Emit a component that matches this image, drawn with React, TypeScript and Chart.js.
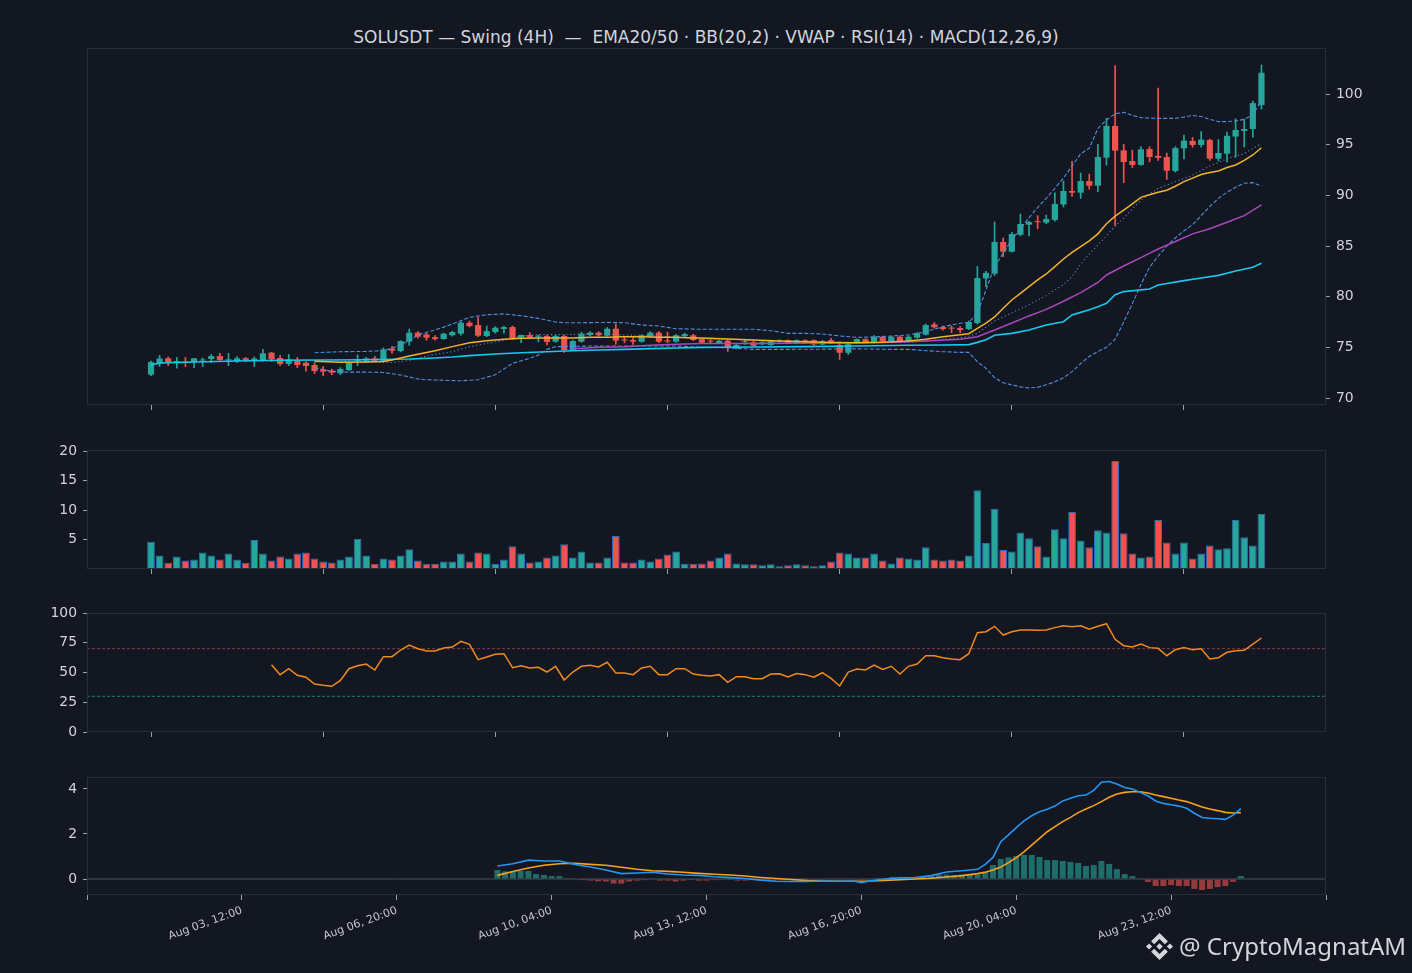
import React, { useEffect, useRef } from 'react';
import { Chart, registerables } from 'chart.js';

Chart.register(...registerables);

// ---------------- data ----------------
const opens = [72.3, 73.4, 73.92, 73.48, 73.6, 73.53, 73.7, 73.85, 74.14, 73.72,
  73.65, 73.93, 73.68, 73.75, 74.47, 73.95, 73.36, 73.75, 73.48, 73.26,
  72.83, 72.7, 72.44, 72.76, 73.65, 73.68, 73.92, 73.65, 74.87, 74.64,
  75.56, 76.45, 76.28, 76.0, 75.82, 76.19, 76.35, 77.43, 77.2, 76.12,
  76.51, 76.81, 77.0, 75.95, 76.22, 76.05, 76.12, 75.56, 76.12, 74.74,
  75.56, 76.22, 76.45, 76.15, 76.84, 75.72, 75.72, 75.56, 76.05, 76.45,
  75.62, 75.56, 76.1, 76.19, 75.8, 75.62, 75.4, 75.66, 74.9, 75.5,
  75.5, 75.3, 75.23, 75.6, 75.7, 75.4, 75.7, 75.72, 75.29, 75.7,
  75.23, 74.47, 75.5, 75.8, 75.46, 76.05, 75.62, 76.05, 75.56, 75.95,
  76.25, 77.27, 77.0, 76.9, 76.9, 76.8, 77.4, 81.8, 82.27, 85.4,
  84.44, 86.1, 87.1, 87.45, 87.3, 87.57, 89.1, 90.43, 90.26, 91.41,
  90.95, 93.72, 96.85, 94.44, 93.39, 93.0, 94.57, 93.9, 93.78, 92.4,
  94.64, 95.37, 94.97, 95.46, 93.62, 94.11, 95.8, 96.35, 96.55, 98.9];

const highs = [73.65, 74.2, 74.05, 74.0, 74.0, 73.92, 73.95, 74.3, 74.4, 74.4,
  74.1, 74.0, 74.05, 74.8, 74.5, 74.2, 74.3, 74.0, 73.6, 73.5,
  73.1, 72.85, 73.0, 73.6, 74.25, 74.0, 74.1, 74.95, 75.1, 75.65,
  76.8, 76.55, 76.4, 76.15, 76.4, 76.6, 77.55, 77.6, 77.95, 77.1,
  77.05, 77.1, 77.1, 76.22, 76.45, 76.2, 76.2, 76.2, 76.2, 75.7,
  76.5, 76.55, 76.55, 76.95, 77.3, 75.95, 75.95, 76.25, 76.55, 76.55,
  76.5, 76.25, 76.4, 76.3, 75.85, 75.75, 75.7, 75.75, 75.3, 75.7,
  75.6, 75.55, 75.7, 75.75, 75.75, 75.75, 75.75, 75.75, 75.7, 75.9,
  75.55, 75.5, 75.85, 75.85, 76.15, 76.1, 76.1, 76.1, 76.1, 76.45,
  77.3, 77.45, 77.1, 77.1, 77.05, 77.6, 83.0, 82.5, 87.37, 85.79,
  86.35, 88.16, 87.45, 88.0, 88.05, 90.26, 91.4, 93.35, 92.2, 92.1,
  95.04, 97.6, 102.8, 95.04, 94.46, 94.8, 94.8, 100.59, 94.17, 94.8,
  95.95, 95.7, 96.3, 95.57, 95.5, 96.25, 97.55, 97.5, 99.3, 102.86];

const lows = [72.2, 73.1, 73.2, 72.95, 73.1, 73.0, 73.1, 73.5, 73.7, 73.2,
  73.5, 73.6, 73.1, 73.6, 73.6, 73.2, 73.2, 73.0, 72.65, 72.4,
  72.2, 72.3, 72.3, 72.7, 73.2, 73.5, 73.6, 73.6, 74.4, 74.55,
  75.2, 75.9, 75.7, 75.7, 75.8, 76.1, 76.2, 77.0, 76.05, 76.05,
  76.4, 76.4, 75.8, 75.45, 75.9, 75.55, 75.25, 75.5, 74.5, 74.7,
  75.5, 76.15, 76.1, 76.1, 75.3, 75.45, 75.3, 75.5, 76.0, 75.45,
  75.45, 75.5, 76.0, 75.65, 75.35, 75.4, 75.35, 74.6, 74.85, 75.3,
  75.1, 75.25, 75.2, 75.5, 75.35, 75.35, 75.45, 75.2, 75.25, 75.35,
  73.8, 74.3, 75.45, 75.45, 75.4, 75.5, 75.55, 75.5, 75.5, 75.9,
  76.2, 76.9, 76.7, 76.45, 76.45, 76.75, 77.3, 80.98, 82.1, 83.94,
  84.4, 86.0, 86.0, 86.7, 87.2, 87.45, 88.85, 89.9, 89.7, 90.6,
  90.36, 92.97, 87.0, 91.25, 92.74, 92.95, 93.3, 93.45, 91.57, 92.3,
  93.6, 94.75, 94.75, 93.45, 93.4, 93.3, 93.77, 94.77, 95.73, 98.5];

const closes = [73.55, 73.9, 73.48, 73.65, 73.45, 73.92, 73.72, 74.14, 73.75, 73.74,
  73.92, 73.7, 73.9, 74.41, 73.82, 73.36, 73.82, 73.26, 73.16, 72.66,
  72.6, 72.5, 72.86, 73.52, 73.85, 73.92, 73.68, 74.8, 74.67, 75.62,
  76.45, 76.05, 75.95, 75.82, 76.35, 76.51, 77.43, 77.1, 76.15, 76.6,
  76.94, 77.0, 75.89, 76.22, 75.99, 76.15, 75.53, 76.12, 74.74, 75.62,
  76.35, 76.45, 76.19, 76.84, 75.66, 75.68, 75.56, 76.19, 76.45, 75.56,
  75.58, 76.19, 76.3, 75.72, 75.46, 75.58, 75.66, 74.97, 75.23, 75.52,
  75.16, 75.5, 75.62, 75.65, 75.4, 75.7, 75.5, 75.29, 75.62, 75.4,
  74.47, 75.3, 75.8, 75.5, 76.05, 75.56, 76.05, 75.56, 76.05, 76.38,
  77.2, 76.98, 76.8, 76.85, 76.7, 77.5, 81.84, 82.35, 85.4, 84.44,
  86.18, 87.17, 87.37, 87.35, 87.67, 89.15, 90.43, 90.26, 91.41, 90.95,
  93.78, 96.85, 94.41, 93.29, 93.0, 94.54, 93.78, 93.7, 92.43, 94.67,
  95.4, 94.97, 95.5, 93.62, 94.18, 95.88, 96.45, 96.55, 99.1, 102.1];

const volumes = [4.6, 2.3, 1.07, 2.13, 1.46, 1.63, 2.8, 2.3, 1.63, 2.64,
  1.63, 1.07, 4.9, 2.64, 1.46, 2.13, 1.8, 2.64, 2.8, 1.8,
  1.29, 1.12, 1.63, 2.13, 5.1, 2.3, 0.9, 1.8, 1.63, 2.3,
  3.35, 1.46, 0.9, 0.9, 1.29, 1.29, 2.64, 1.29, 2.8, 2.64,
  0.9, 1.63, 3.85, 2.64, 1.12, 1.29, 1.97, 2.3, 4.2, 1.97,
  2.98, 1.12, 1.12, 1.97, 5.6, 1.12, 1.12, 1.63, 1.29, 1.8,
  2.47, 2.98, 0.9, 0.9, 0.95, 1.46, 1.97, 2.64, 0.95, 0.79,
  0.79, 0.62, 0.79, 0.45, 0.62, 0.79, 0.62, 0.45, 0.62, 1.29,
  2.8, 2.64, 1.97, 1.97, 2.64, 1.46, 0.95, 1.97, 1.8, 1.63,
  3.7, 1.63, 1.46, 1.63, 1.46, 2.3, 13.35, 4.4, 10.15, 3.2,
  2.98, 6.2, 5.2, 3.85, 2.13, 6.75, 5.2, 9.65, 4.85, 3.7,
  6.55, 6.2, 18.3, 6.05, 2.64, 1.97, 2.13, 8.3, 4.5, 2.64,
  4.5, 1.8, 2.64, 4.0, 3.35, 3.5, 8.3, 5.4, 4.0, 9.35];

const rsiStart = 14;
const rsiValues = [56.6, 48.2, 53.2, 47.6, 46.0, 40.3, 39.2, 38.4, 43.4, 53.2,
  55.7, 57.1, 52.1, 63.3, 63.3, 68.9, 73.1, 70.0, 68.1, 68.1,
  70.6, 71.4, 76.2, 73.7, 60.8, 63.0, 65.3, 65.8, 54.0, 55.7,
  53.8, 54.4, 50.4, 55.2, 43.7, 50.4, 55.2, 56.0, 54.6, 58.6,
  49.6, 49.6, 48.2, 53.8, 55.2, 48.2, 48.2, 53.2, 53.2, 48.7,
  47.6, 47.1, 48.2, 41.8, 46.5, 46.5, 44.8, 44.8, 48.7, 49.0,
  46.2, 49.2, 48.2, 46.0, 49.8, 45.1, 38.7, 50.4, 52.9, 52.1,
  56.3, 52.6, 55.2, 48.7, 55.2, 57.1, 64.1, 64.1, 62.4, 61.3,
  60.8, 65.8, 83.5, 84.3, 88.8, 81.5, 84.3, 85.7, 85.7, 85.4,
  85.7, 87.7, 89.3, 88.5, 89.3, 86.3, 88.8, 91.0, 77.9, 72.5,
  71.4, 73.9, 70.9, 70.3, 64.1, 69.2, 70.9, 69.2, 70.0, 61.3,
  62.4, 67.0, 68.3, 68.6, 73.9, 79.0];
const rsiLevels = [70, 30];

const ema20Pts: [number, number][] = [[19, 73.62], [22, 73.52], [25, 73.55], [27, 73.6], [28, 73.75], [30, 74.14], [32, 74.5], [33, 74.67], [35, 75.07], [37, 75.46], [39, 75.66], [41, 75.79], [43, 75.89], [45, 75.92], [47, 75.92], [49, 75.92], [51, 75.99], [53, 75.99], [55, 76.05], [57, 76.05], [59, 75.99], [61, 75.99], [63, 75.92], [64, 75.92], [67, 75.82], [70, 75.72], [73, 75.62], [76, 75.56], [79, 75.49], [82, 75.46], [85, 75.5], [88, 75.62], [90, 75.79], [92, 76.05], [94, 76.25], [95, 76.35], [96, 76.88], [97, 77.4], [98, 78.0], [99, 78.85], [100, 79.67], [101, 80.33], [102, 80.99], [103, 81.65], [104, 82.24], [105, 82.96], [106, 83.72], [107, 84.38], [108, 84.93], [109, 85.5], [110, 86.2], [111, 87.2], [112, 87.95], [113, 88.55], [114, 89.15], [115, 89.8], [116, 90.05], [117, 90.3], [118, 90.5], [119, 90.9], [120, 91.35], [121, 91.7], [122, 92.05], [123, 92.25], [124, 92.4], [125, 92.75], [126, 93.0], [127, 93.45], [128, 93.98], [129, 94.7]];

const ema50Pts: [number, number][] = [[49, 74.87], [52, 75.0], [55, 75.07], [58, 75.2], [61, 75.3], [64, 75.37], [70, 75.39], [78, 75.42], [82, 75.46], [86, 75.5], [90, 75.62], [94, 75.79], [96, 76.05], [98, 76.71], [100, 77.4], [102, 78.1], [104, 78.75], [106, 79.55], [108, 80.4], [110, 81.4], [111, 82.14], [113, 83.03], [115, 83.85], [117, 84.7], [119, 85.45], [121, 86.2], [123, 86.7], [125, 87.35], [127, 88.0], [129, 89.05]];

const vwapPts: [number, number][] = [[0, 73.26], [1, 73.45], [5, 73.55], [10, 73.65], [15, 73.72], [20, 73.75], [25, 73.78], [30, 73.85], [33, 73.95], [35, 74.04], [37, 74.18], [40, 74.34], [43, 74.47], [46, 74.57], [49, 74.67], [52, 74.74], [55, 74.8], [58, 74.87], [61, 74.93], [64, 75.0], [70, 75.03], [76, 75.07], [82, 75.13], [88, 75.2], [92, 75.23], [95, 75.27], [96, 75.49], [97, 75.75], [98, 76.2], [100, 76.38], [102, 76.71], [104, 77.2], [106, 77.53], [107, 78.2], [108, 78.45], [109, 78.7], [110, 79.0], [111, 79.35], [112, 80.2], [113, 80.5], [116, 80.76], [117, 81.15], [120, 81.58], [122, 81.85], [124, 82.1], [126, 82.53], [128, 82.9], [129, 83.29]];

const bbUpperPts: [number, number][] = [[19, 74.47], [22, 74.57], [25, 74.6], [27, 74.67], [28, 74.9], [30, 75.66], [31, 76.2], [32, 76.48], [33, 76.71], [35, 77.3], [37, 77.96], [39, 78.22], [41, 78.3], [43, 78.12], [45, 77.86], [47, 77.5], [48, 77.43], [50, 77.43], [53, 77.46], [55, 77.43], [57, 77.2], [59, 77.1], [61, 76.84], [64, 76.78], [67, 76.78], [70, 76.78], [72, 76.64], [74, 76.38], [76, 76.38], [78, 76.32], [80, 76.12], [82, 75.99], [84, 76.02], [86, 76.12], [88, 76.22], [90, 76.54], [92, 77.04], [94, 77.37], [95, 77.47], [96, 78.36], [97, 80.66], [98, 82.96], [99, 84.3], [100, 85.6], [101, 86.7], [102, 87.8], [103, 88.8], [104, 89.7], [105, 90.7], [106, 91.7], [107, 92.9], [108, 94.1], [109, 94.64], [110, 96.6], [111, 97.44], [112, 98.05], [113, 98.19], [114, 97.9], [115, 97.66], [117, 97.6], [119, 97.6], [120, 97.72], [121, 97.88], [122, 97.78], [123, 97.5], [124, 97.27], [125, 97.27], [126, 97.35], [127, 97.5], [128, 97.93], [129, 99.4]];

const bbMidPts: [number, number][] = [[19, 73.7], [22, 73.6], [25, 73.55], [28, 73.5], [30, 73.7], [32, 74.14], [33, 74.3], [35, 74.57], [37, 75.07], [39, 75.39], [41, 75.69], [43, 76.12], [45, 76.25], [47, 76.25], [49, 76.28], [51, 76.32], [53, 76.28], [55, 76.22], [57, 76.18], [59, 76.12], [61, 76.0], [63, 75.9], [64, 75.85], [68, 75.79], [72, 75.59], [76, 75.49], [80, 75.46], [84, 75.46], [88, 75.5], [90, 75.6], [92, 75.8], [94, 75.95], [95, 76.1], [96, 76.38], [98, 77.6], [100, 78.4], [102, 79.2], [104, 80.1], [106, 81.2], [107, 82.0], [108, 83.2], [109, 84.2], [110, 85.1], [111, 86.0], [112, 86.97], [113, 87.74], [115, 89.54], [117, 90.69], [119, 91.35], [121, 92.0], [123, 92.9], [125, 93.6], [127, 94.13], [129, 95.12]];

const bbLowerPts: [number, number][] = [[19, 72.99], [21, 72.63], [23, 72.55], [25, 72.55], [27, 72.52], [29, 72.27], [31, 71.88], [32, 71.8], [34, 71.75], [36, 71.7], [38, 71.8], [40, 72.3], [42, 73.42], [44, 73.92], [45, 74.24], [46, 74.8], [47, 75.07], [49, 75.1], [51, 75.13], [61, 75.13], [64, 75.0], [66, 75.0], [68, 74.9], [70, 74.8], [74, 74.8], [78, 74.82], [82, 74.85], [86, 74.8], [88, 74.8], [90, 74.67], [92, 74.57], [94, 74.5], [95, 74.5], [96, 73.58], [97, 72.93], [98, 72.0], [99, 71.5], [100, 71.3], [101, 71.1], [102, 71.0], [103, 71.05], [104, 71.3], [105, 71.6], [106, 72.0], [107, 72.6], [108, 73.4], [109, 74.1], [110, 74.6], [111, 75.0], [112, 75.8], [113, 77.5], [114, 79.3], [115, 81.2], [116, 82.9], [117, 84.0], [118, 85.0], [119, 85.8], [120, 86.5], [121, 87.1], [122, 88.0], [123, 88.9], [124, 89.7], [125, 90.3], [126, 90.8], [127, 91.2], [128, 91.25], [129, 90.92]];

const macdPts: [number, number][] = [[33, 0.58], [35, 0.68], [37, 0.84], [39, 0.8], [41, 0.8], [43, 0.65], [45, 0.53], [47, 0.4], [49, 0.24], [51, 0.27], [53, 0.3], [55, 0.22], [57, 0.18], [59, 0.16], [61, 0.1], [63, 0.06], [65, 0.02], [67, -0.05], [69, -0.1], [71, -0.11], [73, -0.11], [75, -0.09], [77, -0.1], [79, -0.09], [80, -0.16], [81, -0.09], [83, 0], [85, 0.05], [87, 0.07], [89, 0.15], [91, 0.31], [93, 0.37], [95, 0.43], [96, 0.65], [97, 0.96], [98, 1.66], [99, 1.96], [100, 2.28], [101, 2.58], [102, 2.81], [103, 2.99], [104, 3.1], [105, 3.24], [106, 3.47], [107, 3.59], [108, 3.7], [109, 3.73], [110, 3.94], [111, 4.3], [112, 4.33], [113, 4.22], [114, 4.07], [115, 4.0], [116, 3.85], [117, 3.7], [118, 3.47], [119, 3.36], [120, 3.3], [121, 3.24], [122, 3.14], [123, 2.92], [124, 2.73], [125, 2.7], [126, 2.68], [127, 2.65], [128, 2.84], [129, 3.13]];

const signalPts: [number, number][] = [[33, 0.16], [35, 0.33], [37, 0.49], [39, 0.61], [41, 0.68], [43, 0.7], [45, 0.65], [47, 0.61], [49, 0.52], [51, 0.43], [53, 0.37], [55, 0.34], [57, 0.3], [59, 0.25], [61, 0.21], [63, 0.18], [65, 0.13], [67, 0.07], [69, 0.02], [71, -0.02], [73, -0.07], [75, -0.09], [77, -0.1], [79, -0.1], [81, -0.09], [83, -0.06], [85, -0.03], [87, 0], [89, 0.03], [91, 0.09], [93, 0.15], [95, 0.24], [96, 0.3], [97, 0.4], [98, 0.53], [99, 0.73], [100, 0.95], [101, 1.21], [102, 1.51], [103, 1.81], [104, 2.1], [105, 2.33], [106, 2.55], [107, 2.74], [108, 2.95], [109, 3.11], [110, 3.26], [111, 3.44], [112, 3.63], [113, 3.78], [114, 3.85], [115, 3.88], [116, 3.88], [117, 3.82], [118, 3.73], [119, 3.66], [120, 3.59], [121, 3.51], [122, 3.44], [123, 3.32], [124, 3.2], [125, 3.11], [126, 3.04], [127, 2.96], [128, 2.93], [129, 2.95]];

const macdStart = 33;
const macdHist = [0.4, 0.34, 0.34, 0.36, 0.36, 0.22, 0.18, 0.13, 0.13, 0.04,
  -0.02, -0.05, -0.07, -0.1, -0.11, -0.2, -0.2, -0.11, -0.07, -0.05,
  -0.02, -0.07, -0.07, -0.11, -0.07, -0.04, -0.07, -0.07, -0.05, -0.04,
  -0.04, -0.07, -0.07, -0.05, -0.08, -0.08, -0.05, -0.05, -0.05, -0.05,
  -0.04, -0.05, -0.04, -0.02, -0.02, -0.01, -0.01, -0.05, -0.01, 0.04,
  0.04, 0.09, 0.09, 0.09, 0.07, 0.09, 0.13, 0.2, 0.2, 0.18,
  0.2, 0.22, 0.2, 0.33, 0.62, 0.89, 0.96, 1.02, 1.07, 1.07,
  0.98, 0.84, 0.84, 0.8, 0.76, 0.71, 0.58, 0.62, 0.8, 0.67,
  0.44, 0.22, 0.13, 0.0, -0.13, -0.31, -0.31, -0.27, -0.31, -0.31,
  -0.44, -0.49, -0.44, -0.36, -0.31, -0.13, 0.13];

const priceTicks = [70, 75, 80, 85, 90, 95, 100];
const volumeTicks = [5, 10, 15, 20];
const rsiTicks = [0, 25, 50, 75, 100];
const macdTicks = [0, 2, 4];
const indexTicks = [0, 20, 40, 60, 80, 100, 120];
const dateTickValues = [-20, 0, 20, 40, 60, 80, 100, 120, 140];
const dateTickLabels = ['', 'Aug 03, 12:00', 'Aug 06, 20:00', 'Aug 10, 04:00', 'Aug 13, 12:00', 'Aug 16, 20:00', 'Aug 20, 04:00', 'Aug 23, 12:00', ''];

const titleText = 'SOLUSDT — Swing (4H)  —  EMA20/50 · BB(20,2) · VWAP · RSI(14) · MACD(12,26,9)';
const watermarkText = '@ CryptoMagnatAM';

// ---------------- style ----------------
const BG = '#131722';
const FRAME = '#2a2e39';
const TEXT = '#d1d4dc';
const TICK_MARK = '#9aa0ab';
const UP = '#26a69a';
const DOWN = '#ef5350';
const FONT = '"DejaVu Sans", "Liberation Sans", sans-serif';
const W = 1412;
const X_MIN = -7.435;
const X_MAX = 136.5;

const candleColors = opens.map((o, i) => (closes[i] >= o ? UP : DOWN));

function fixBox(w?: number, h?: number) {
  return (scale: any) => {
    if (w !== undefined) scale.width = w;
    if (h !== undefined) scale.height = h;
    scale.paddingLeft = 0;
    scale.paddingRight = 0;
    scale.paddingTop = 0;
    scale.paddingBottom = 0;
  };
}
function setTicks(values: number[]) {
  return (scale: any) => {
    scale.ticks = values.map((v) => ({ value: v }));
  };
}

const framePlugin = {
  id: 'frame',
  afterDraw(chart: any) {
    const { ctx, chartArea: a } = chart;
    ctx.save();
    ctx.strokeStyle = FRAME;
    ctx.lineWidth = 1;
    ctx.strokeRect(Math.round(a.left) + 0.5, Math.round(a.top) + 0.5, Math.round(a.width) - 1, Math.round(a.height) - 1);
    ctx.restore();
  },
};

function topX(h: number) {
  return {
    type: 'linear',
    min: X_MIN,
    max: X_MAX,
    offset: false,
    afterBuildTicks: setTicks(indexTicks),
    afterFit: fixBox(undefined, h),
    grid: { offset: false, drawOnChartArea: false, drawTicks: true, tickLength: 5, tickColor: TICK_MARK, tickWidth: 1 },
    border: { display: false },
    ticks: { callback: () => '', autoSkip: false, maxRotation: 0 },
  };
}

function yAxis(position: 'left' | 'right', min: number, max: number, ticks: number[], w: number) {
  return {
    type: 'linear',
    position,
    min,
    max,
    afterBuildTicks: setTicks(ticks),
    afterFit: fixBox(w, undefined),
    grid: { offset: false, drawOnChartArea: false, drawTicks: true, tickLength: 4, tickColor: TICK_MARK, tickWidth: 1 },
    border: { display: false },
    ticks: { color: TEXT, font: { family: FONT, size: 13.9 }, padding: 6 },
  };
}

function lineDs(label: string, pts: [number, number][], color: string, width: number, dash: number[] = [], order = 1) {
  return {
    type: 'line',
    label,
    data: pts.map(([x, y]) => ({ x, y })),
    borderColor: color,
    borderWidth: width,
    borderDash: dash,
    pointRadius: 0,
    tension: 0,
    fill: false,
    order,
  };
}

const baseOptions = {
  responsive: false,
  animation: false,
  devicePixelRatio: 1,
  events: [],
  plugins: { legend: { display: false }, tooltip: { enabled: false }, title: { display: false } },
};

function priceConfig(): any {
  return {
    type: 'bar',
    data: {
      datasets: [
        {
          type: 'bar',
          label: 'wick',
          data: opens.map((_, i) => ({ x: i, y: [lows[i], highs[i]] })),
          backgroundColor: candleColors,
          barThickness: 1,
          grouped: false,
          order: 20,
        },
        {
          type: 'bar',
          label: 'body',
          data: opens.map((o, i) => ({ x: i, y: [o, closes[i]] })),
          backgroundColor: candleColors,
          barPercentage: 0.72,
          categoryPercentage: 1,
          grouped: false,
          minBarLength: 1,
          order: 19,
        },
        lineDs('BB upper', bbUpperPts, '#4d8fe0', 1.1, [4, 2], 5),
        lineDs('BB lower', bbLowerPts, '#4d8fe0', 1.1, [4, 2], 5),
        lineDs('BB mid', bbMidPts, '#5a84c0', 1.1, [1.2, 2.6], 5),
        lineDs('EMA50', ema50Pts, '#ab47bc', 1.5, [], 3),
        lineDs('VWAP', vwapPts, '#18c8ec', 1.6, [], 2),
        lineDs('EMA20', ema20Pts, '#f0b429', 1.5, [], 1),
      ],
    },
    options: {
      ...baseOptions,
      layout: { padding: { left: 87, right: 0, top: 8, bottom: 0 } },
      scales: {
        x: topX(35),
        y: yAxis('right', 69.31, 104.54, priceTicks, 86),
      },
    },
    plugins: [framePlugin],
  };
}

function volumeConfig(): any {
  return {
    type: 'bar',
    data: {
      datasets: [
        {
          label: 'Volume',
          data: volumes.map((v, i) => ({ x: i, y: v })),
          backgroundColor: candleColors,
          borderColor: '#2f6cb2',
          borderWidth: 1,
          barPercentage: 0.9,
          categoryPercentage: 1,
          grouped: false,
        },
      ],
    },
    options: {
      ...baseOptions,
      layout: { padding: { left: 0, right: 86, top: 8, bottom: 0 } },
      scales: {
        x: topX(13),
        y: yAxis('left', 0, 20.17, volumeTicks, 87),
      },
    },
    plugins: [framePlugin],
  };
}

function rsiConfig(): any {
  return {
    type: 'line',
    data: {
      datasets: [
        lineDs('70', [[X_MIN, rsiLevels[0]], [X_MAX, rsiLevels[0]]], '#7e3f4b', 1, [3, 2], 5),
        lineDs('30', [[X_MIN, rsiLevels[1]], [X_MAX, rsiLevels[1]]], '#1b8078', 1, [3, 2], 5),
        lineDs('RSI', rsiValues.map((v, k) => [rsiStart + k, v] as [number, number]), '#ef8a1c', 1.5, [], 1),
      ],
    },
    options: {
      ...baseOptions,
      layout: { padding: { left: 0, right: 86, top: 8, bottom: 0 } },
      scales: {
        x: topX(13),
        y: yAxis('left', 0, 100, rsiTicks, 87),
      },
    },
    plugins: [framePlugin],
  };
}

function macdConfig(): any {
  return {
    type: 'bar',
    data: {
      datasets: [
        {
          type: 'bar',
          label: 'Hist',
          data: macdHist.map((h, k) => ({ x: macdStart + k, y: h })),
          backgroundColor: macdHist.map((h) => (h >= 0 ? 'rgba(38,166,154,0.6)' : 'rgba(239,83,80,0.6)')),
          barPercentage: 0.78,
          categoryPercentage: 1,
          grouped: false,
          order: 20,
        },
        lineDs('zero', [[-20, 0], [140, 0]], '#4b505b', 1, [], 10),
        lineDs('Signal', signalPts, '#f7a21b', 1.6, [], 2),
        lineDs('MACD', macdPts, '#2196f3', 1.6, [], 1),
      ],
    },
    options: {
      ...baseOptions,
      layout: { padding: { left: 0, right: 86, top: 8, bottom: 0 } },
      scales: {
        x: {
          type: 'linear',
          min: -20,
          max: 140,
          offset: false,
          afterBuildTicks: setTicks(dateTickValues),
          afterFit: fixBox(undefined, 78),
          grid: { offset: false, drawOnChartArea: false, drawTicks: true, tickLength: 5, tickColor: TICK_MARK, tickWidth: 1 },
          border: { display: false },
          ticks: {
            autoSkip: false,
            minRotation: 20,
            maxRotation: 20,
            padding: 4,
            color: '#c3c6cd',
            font: { family: FONT, size: 11 },
            callback: (v: number) => {
              const k = dateTickValues.indexOf(v);
              return k >= 0 ? dateTickLabels[k] : '';
            },
          },
        },
        y: yAxis('left', -0.711, 4.533, macdTicks, 87),
      },
    },
    plugins: [framePlugin],
  };
}

function Panel({ top, height, build }: { top: number; height: number; build: () => any }) {
  const ref = useRef<HTMLCanvasElement>(null);
  useEffect(() => {
    const chart = new Chart(ref.current as HTMLCanvasElement, build());
    return () => chart.destroy();
  }, []);
  return (
    <canvas
      ref={ref}
      width={W}
      height={height}
      style={{ position: 'absolute', left: 0, top, width: W, height, display: 'block' }}
    />
  );
}

function BinanceLogo() {
  return (
    <svg width="27" height="27" viewBox="0 0 126 126" style={{ position: 'absolute', left: 1146, top: 933 }}>
      <path
        fill="#d4d6db"
        d="M38.2 53l24.8-24.8L87.8 53l14.4-14.4L63 0 23.8 38.6zM0 63l14.4-14.4L28.8 63 14.4 77.4zM38.2 73l24.8 24.8L87.8 73l14.4 14.4L63 126 23.8 87.2zM97.2 63l14.4-14.4L126 63l-14.4 14.4zM77.6 63L63 48.4 48.4 63 63 77.6z"
      />
    </svg>
  );
}

export default function App() {
  useEffect(() => {
    document.body.style.margin = '0';
    document.body.style.background = BG;
  }, []);
  return (
    <div style={{ position: 'absolute', left: 0, top: 0, width: W, height: 973, background: BG, overflow: 'hidden' }}>
      <div
        style={{
          position: 'absolute',
          left: 0,
          top: 26,
          width: W,
          textAlign: 'center',
          color: TEXT,
          fontFamily: FONT,
          fontSize: 17,
          lineHeight: '22px',
          whiteSpace: 'pre',
        }}
      >
        {titleText}
      </div>
      <Panel top={40} height={400} build={priceConfig} />
      <Panel top={442} height={140} build={volumeConfig} />
      <Panel top={605} height={140} build={rsiConfig} />
      <Panel top={769} height={204} build={macdConfig} />
      <BinanceLogo />
      <div
        style={{
          position: 'absolute',
          left: 1179,
          top: 934,
          color: '#d4d6db',
          fontFamily: '"Noto Sans", "Open Sans", sans-serif',
          fontSize: 24,
          lineHeight: '24px',
          whiteSpace: 'pre',
        }}
      >
        {watermarkText}
      </div>
    </div>
  );
}
